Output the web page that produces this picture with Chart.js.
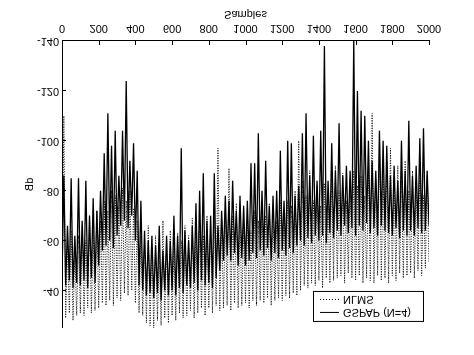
<!DOCTYPE html>
<html>
<head>
<meta charset="utf-8">
<script src="https://cdn.jsdelivr.net/npm/chart.js@4.4.1/dist/chart.umd.min.js"></script>
<style>
  html, body { margin: 0; padding: 0; background: #fff; overflow: hidden; }
  /* the reference picture is the MATLAB figure mirrored top-to-bottom */
  #wrap { width: 474px; height: 355px; transform: scaleY(-1); }
</style>
</head>
<body>
<div id="wrap"><canvas id="chart" width="474" height="355"></canvas></div>
<script>
// samples run 0..2000, one value every 10 samples
const sampleStep = 10;
const xTicks = [0, 200, 400, 600, 800, 1000, 1200, 1400, 1600, 1800, 2000];
const yTicks = [-140, -120, -100, -80, -60, -40];
const seriesNames = ['GSPAP (N=4)', 'NLMS'];

const nlms = [
  -30, -110, -29, -58, -31, -64, -28, -55, -30, -62,
  -31, -66, -30, -60, -33, -70, -31, -64, -32, -72,
  -33, -68, -35, -76, -34, -72, -36, -80, -34, -78,
  -37, -74, -36, -81, -39, -76, -38, -80, -40, -73,
  -35, -68, -31, -62, -30, -60, -27, -66, -26, -58,
  -25, -62, -28, -55, -26, -68, -29, -60, -27, -64,
  -30, -58, -28, -63, -31, -60, -29, -66, -30, -62,
  -32, -69, -29, -64, -31, -67, -33, -62, -30, -70,
  -33, -66, -31, -71, -34, -97, -32, -68, -33, -72,
  -34, -89, -32, -70, -35, -75, -33, -68, -34, -66,
  -35, -70, -33, -64, -36, -72, -34, -68, -36, -74,
  -35, -70, -37, -75, -34, -72, -36, -68, -37, -76,
  -36, -72, -38, -76, -37, -74, -39, -80, -38, -100,
  -40, -84, -42, -78, -41, -88, -43, -76, -42, -82,
  -44, -74, -41, -83, -45, -78, -43, -86, -44, -90,
  -45, -80, -46, -87, -43, -76, -47, -84, -45, -88,
  -44, -82, -46, -86, -43, -78, -45, -90, -44, -111,
  -43, -85, -46, -103, -44, -88, -45, -92, -43, -97,
  -46, -84, -44, -90, -47, -86, -45, -92, -46, -80,
  -47, -88, -45, -84, -48, -90, -46, -78, -49, -86,
  -51
];

const gspap = [
  -45, -86, -42, -66, -44, -85, -41, -62, -43, -85,
  -42, -68, -44, -84, -41, -70, -45, -77, -43, -72,
  -50, -80, -56, -95, -58, -111, -60, -98, -57, -104,
  -62, -86, -66, -104, -68, -124, -65, -92, -70, -99,
  -60, -88, -42, -76, -40, -64, -38, -60, -39, -62,
  -37, -58, -39, -66, -36, -56, -40, -62, -38, -60,
  -40, -70, -38, -62, -41, -97, -39, -64, -42, -60,
  -41, -66, -43, -75, -40, -80, -44, -87, -42, -68,
  -43, -70, -41, -87, -45, -66, -48, -72, -52, -78,
  -54, -76, -52, -84, -55, -72, -50, -78, -53, -74,
  -50, -76, -52, -91, -55, -91, -53, -103, -56, -80,
  -54, -92, -57, -74, -52, -78, -55, -80, -53, -96,
  -56, -76, -54, -100, -57, -99, -55, -78, -58, -82,
  -60, -103, -58, -111, -61, -86, -59, -102, -62, -84,
  -60, -104, -62, -138, -59, -84, -63, -99, -61, -88,
  -64, -107, -62, -86, -66, -90, -63, -88, -65, -140,
  -62, -120, -66, -112, -64, -110, -67, -100, -63, -92,
  -65, -88, -62, -104, -66, -100, -64, -98, -63, -86,
  -62, -90, -65, -84, -61, -100, -64, -88, -62, -108,
  -64, -86, -62, -90, -65, -101, -63, -105, -64, -88,
  -66
];

const toPoints = (vals) => vals.map((v, i) => ({ x: i * sampleStep, y: v }));

const FONT = 'Arial, "Liberation Sans", Helvetica, sans-serif';

// MATLAB style ticks pointing into the axes
const innerTicks = {
  id: 'innerTicks',
  afterDraw(chart) {
    const { ctx, chartArea, scales } = chart;
    ctx.save();
    ctx.strokeStyle = '#000';
    ctx.lineWidth = 1;
    ctx.beginPath();
    xTicks.forEach((t) => {
      const px = Math.round(scales.x.getPixelForValue(t)) + 0.5;
      ctx.moveTo(px, chartArea.bottom);
      ctx.lineTo(px, chartArea.bottom - 4);
    });
    yTicks.forEach((t) => {
      const py = Math.round(scales.y.getPixelForValue(t)) + 0.5;
      ctx.moveTo(chartArea.left, py);
      ctx.lineTo(chartArea.left + 4, py);
    });
    ctx.stroke();
    ctx.restore();
  },
};

// boxed legend in the upper right corner
const boxLegend = {
  id: 'boxLegend',
  afterDatasetsDraw(chart) {
    const { ctx } = chart;
    const x0 = 313.5, y0 = 33.5, w = 110, h = 30;
    ctx.save();
    ctx.fillStyle = '#fff';
    ctx.fillRect(x0, y0, w, h);
    ctx.strokeStyle = '#000';
    ctx.lineWidth = 1;
    ctx.strokeRect(x0, y0, w, h);
    const rows = [
      { name: seriesNames[0], dash: [], y: 42.5 },
      { name: seriesNames[1], dash: [1, 2], y: 55.5 },
    ];
    ctx.font = '11px ' + FONT;
    ctx.textBaseline = 'middle';
    ctx.fillStyle = '#000';
    rows.forEach((r) => {
      ctx.setLineDash(r.dash);
      ctx.beginPath();
      ctx.moveTo(320, r.y);
      ctx.lineTo(339, r.y);
      ctx.stroke();
      ctx.fillText(r.name, 343, r.y);
    });
    ctx.restore();
  },
};

new Chart(document.getElementById('chart'), {
  type: 'line',
  data: {
    datasets: [
      {
        label: seriesNames[1],
        data: toPoints(nlms),
        borderColor: '#000',
        borderWidth: 1,
        borderDash: [1, 1.5],
        pointRadius: 0,
        tension: 0,
        order: 2,
      },
      {
        label: seriesNames[0],
        data: toPoints(gspap),
        borderColor: '#000',
        borderWidth: 1.3,
        pointRadius: 0,
        tension: 0,
        order: 1,
      },
    ],
  },
  options: {
    responsive: false,
    animation: false,
    events: [],
    layout: { padding: { left: 0, top: 27, right: 45, bottom: 0 } },
    plugins: { legend: { display: false }, tooltip: { enabled: false } },
    scales: {
      x: {
        type: 'linear',
        min: 0,
        max: 2000,
        afterFit: (s) => { s.height = 41; },
        afterBuildTicks: (s) => { s.ticks = xTicks.map((v) => ({ value: v })); },
        grid: { display: false, drawTicks: false },
        border: { display: true, color: '#000', width: 1 },
        ticks: {
          color: '#000', padding: 6, maxRotation: 0, autoSkip: false,
          font: { family: FONT, size: 11 },
          callback: (v) => String(v),
        },
        title: { display: true, text: 'Samples', color: '#000', padding: { top: 0, bottom: 7 }, font: { family: FONT, size: 11 } },
      },
      y: {
        min: -140,
        max: -25,
        afterFit: (s) => { s.width = 62; },
        afterBuildTicks: (s) => { s.ticks = yTicks.map((v) => ({ value: v })); },
        grid: { display: false, drawTicks: false },
        border: { display: true, color: '#000', width: 1 },
        ticks: { color: '#000', padding: 3, font: { family: FONT, size: 11 }, callback: (v) => String(v) },
        title: { display: true, text: 'dB', color: '#000', padding: { top: 23, bottom: 0 }, font: { family: FONT, size: 11 } },
      },
    },
  },
  plugins: [innerTicks, boxLegend],
});
</script>
</body>
</html>
